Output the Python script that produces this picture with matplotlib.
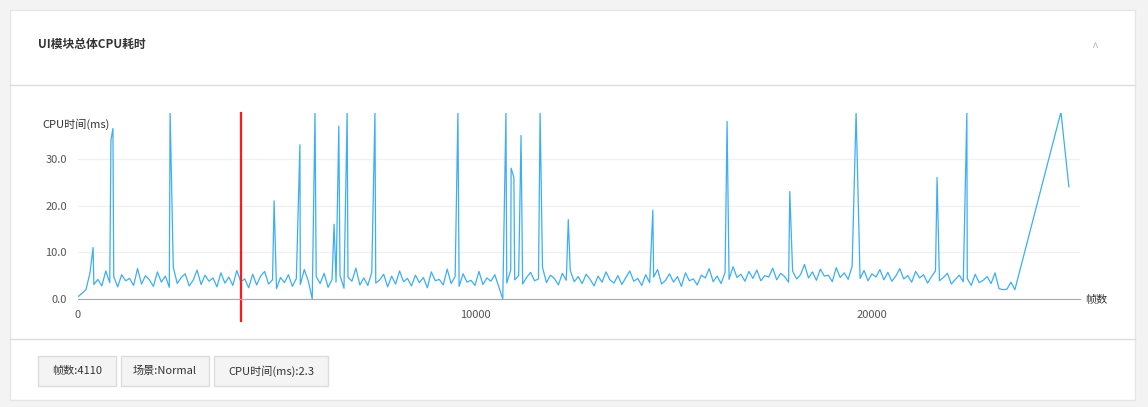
import matplotlib
matplotlib.use("Agg")
import matplotlib.pyplot as plt
from matplotlib.patches import Rectangle

plt.rcParams['font.family'] = ['Noto Sans CJK SC', 'DejaVu Sans']

title = "UI模块总体CPU耗时"
y_label = "CPU时间(ms)"
x_label = "帧数"
x_ticks = [0, 10000, 20000]
y_ticks = [0.0, 10.0, 20.0, 30.0]
selected_frame = 4110
tags = ["帧数:4110", "场景:Normal", "CPU时间(ms):2.3"]

step = 100
baseline = [
 0.5, 1.2, 2.0, 5.5, 3.1, 4.2, 2.8, 6.0, 3.5, 4.8, 2.6, 5.2, 3.9, 4.4, 2.9, 6.5, 3.2, 5.0, 4.1, 2.7,
 5.8, 3.6, 4.9, 2.5, 6.8, 3.3, 4.6, 5.4, 2.8, 4.0, 6.2, 3.1, 5.1, 3.8, 4.5, 2.6, 5.6, 3.4, 4.7, 2.9,
 6.1, 3.7, 4.3, 2.4, 5.3, 3.0, 4.9, 5.9, 3.2, 4.1, 2.2, 4.6, 3.5, 5.2, 2.7, 4.4, 3.1, 6.3, 3.9, 2.8,
 4.8, 3.3, 5.5, 2.5, 4.2, 3.6, 5.0, 2.3, 4.7, 3.8, 6.6, 3.0, 4.5, 2.9, 5.7, 3.4, 4.1, 5.3, 2.6, 4.9,
 3.2, 6.0, 3.7, 4.4, 2.8, 5.1, 3.5, 4.6, 2.4, 5.8, 3.9, 4.2, 3.0, 6.4, 3.3, 4.8, 2.7, 5.4, 3.6, 4.0,
 2.9, 5.9, 3.1, 4.5, 3.8, 5.2, 2.6, 4.7, 3.4, 6.2, 4.1, 5.0, 3.2, 4.6, 5.7, 3.9, 4.3, 6.8, 3.5, 5.1,
 4.4, 3.0, 5.5, 4.0, 6.1, 3.7, 4.8, 3.3, 5.3, 4.2, 2.8, 4.9, 3.6, 5.8, 4.1, 3.4, 5.0, 3.1, 4.6, 6.0,
 3.8, 4.4, 2.9, 5.2, 3.5, 4.7, 6.3, 3.2, 4.0, 5.4, 3.6, 4.8, 2.7, 5.6, 3.9, 4.3, 3.0, 5.1, 4.5, 6.5,
 3.7, 4.9, 3.3, 5.7, 4.2, 6.9, 4.6, 5.3, 3.8, 5.9, 4.4, 6.2, 3.9, 5.0, 4.7, 6.6, 4.1, 5.5, 4.8, 3.6,
 6.0, 4.3, 5.2, 7.4, 4.5, 5.8, 4.0, 6.4, 4.9, 5.1, 3.7, 6.7, 4.6, 5.6, 4.2, 7.0, 5.0, 4.4, 6.1, 3.9,
 5.4, 4.7, 6.3, 4.1, 5.7, 3.8, 4.9, 6.5, 4.3, 5.0, 3.6, 5.9, 4.5, 5.2, 3.4, 4.8, 6.0, 3.9, 4.6, 5.5,
 3.2, 4.2, 5.1, 3.7, 4.4, 2.9, 5.3, 3.5, 4.0, 4.8, 3.3, 5.6, 2.2, 2.0, 2.1, 3.6, 2.0
]
spike_frames = [380, 830, 880, 2320, 4940, 5590, 5900, 5970, 6450, 6570, 6780, 7480, 9570,
                10700, 10780, 10910, 10980, 11160, 11640, 12350, 14480, 16350, 17930, 19600,
                21640, 22390, 24760, 24960]
spike_values = [11.0, 34.0, 36.5, 40.0, 21.0, 33.0, 0.0, 40.0, 16.0, 37.0, 40.0, 40.0, 40.0,
                0.0, 40.0, 28.0, 26.0, 35.0, 40.0, 17.0, 19.0, 38.0, 23.0, 40.0,
                26.0, 40.0, 40.0, 24.0]

pts = {i * step: v for i, v in enumerate(baseline)}
for f, v in zip(spike_frames, spike_values):
    pts[f] = v
xs = sorted(pts)
ys = [pts[x] for x in xs]

W, H = 1148, 407
fig = plt.figure(figsize=(W/100, H/100), dpi=100)
fig.patch.set_facecolor('#f3f3f3')
fig.patches.append(Rectangle((10/W, 1-400/H), 1125/W, 390/H, transform=fig.transFigure,
                             facecolor='white', edgecolor='#e6e6e6', lw=1, zorder=-10))
for yy in (85, 339):
    fig.add_artist(plt.Line2D([10/W, 1135/W], [1-yy/H]*2, color='#dcdcdc', lw=1))
fig.text(38/W, 1-44/H, title, fontsize=8.5, fontweight='bold', color='#333', va='center')
fig.text(1095/W, 1-49/H, "^", fontsize=9, color='#bbb', ha='center', va='center')

ax = fig.add_axes([78/W, 1-299/H, 1002/W, 186/H])
ax.set_facecolor('none')
ax.set_zorder(5)
ax.plot(xs, ys, color='#3daef5', lw=0.9)
ax.axvline(selected_frame, color='#ff1a1a', lw=1.6, ymin=-0.12, ymax=1.0, clip_on=False)
ax.set_xlim(0, 25240)
ax.set_ylim(0, 39.8)
ax.set_xticks(x_ticks)
ax.set_xticklabels([str(t) for t in x_ticks])
ax.set_yticks(y_ticks)
ax.set_yticklabels([f"{t:.1f}" for t in y_ticks])
ax.tick_params(length=0, labelsize=8, colors='#555', pad=8)
ax.grid(axis='y', color='#f0f0f0', lw=1)
ax.set_axisbelow(True)
for s in ['top', 'right', 'left']:
    ax.spines[s].set_visible(False)
ax.spines['bottom'].set_color('#aaa')
fig.text(42/W, 1-124/H, y_label, fontsize=8, color='#333', va='center')
fig.text(1085/W, 1-300/H, x_label, fontsize=8, color='#333', va='center')

boxes = [(38, 116), (121, 209), (214, 328)]
for (x0, x1), t in zip(boxes, tags):
    fig.patches.append(Rectangle((x0/W, 1-386/H), (x1-x0)/W, 30/H, transform=fig.transFigure,
                                 facecolor='#f4f4f4', edgecolor='#dcdcdc', lw=1, zorder=-5))
    fig.text((x0+x1)/2/W, 1-371/H, t, fontsize=8, color='#333', ha='center', va='center')

fig.savefig("out.png", dpi=100)
